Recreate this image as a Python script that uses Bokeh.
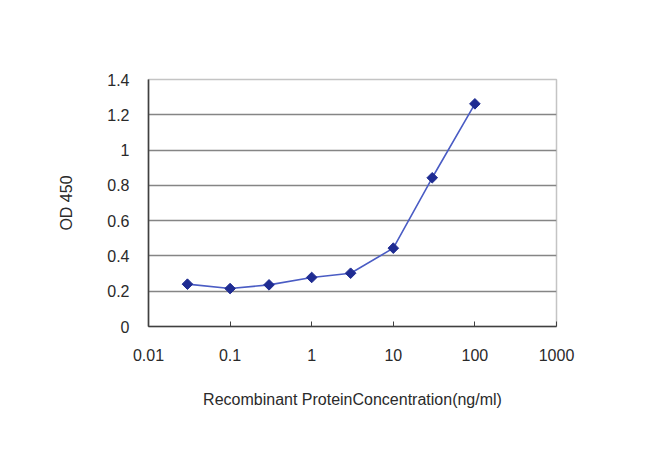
import math
from bokeh.plotting import figure
from bokeh.models import Range1d, FixedTicker, NumeralTickFormatter
from bokeh.embed import file_html
from bokeh.resources import INLINE

# Data
concentration = [0.03, 0.1, 0.3, 1, 3, 10, 30, 100]
od450 = [0.24, 0.215, 0.236, 0.278, 0.302, 0.444, 0.843, 1.262]

x_ticks = [0.01, 0.1, 1, 10, 100, 1000]
y_ticks = [0, 0.2, 0.4, 0.6, 0.8, 1.0, 1.2, 1.4]
grid_ticks = [0.2, 0.4, 0.6, 0.8, 1.0, 1.2]

x_title = "Recombinant ProteinConcentration(ng/ml)"
y_title = "OD 450"

FONT = "Liberation Sans"
TXT = "#2a2a2a"
FS = "16px"

p = figure(width=650, height=466, x_axis_type="log",
           x_range=Range1d(0.01, 1000), y_range=Range1d(0, 1.4),
           output_backend="svg", toolbar_location=None,
           min_border_left=148, min_border_right=94,
           min_border_top=79, min_border_bottom=140)

p.background_fill_color = "white"
p.border_fill_color = "white"
p.outline_line_color = "#c4c4c4"
p.outline_line_width = 1.5

p.xgrid.visible = False
p.ygrid.ticker = FixedTicker(ticks=grid_ticks)
p.ygrid.grid_line_color = "#858585"
p.ygrid.grid_line_width = 1.6

# x axis
xa = p.xaxis[0]
xa.ticker = FixedTicker(ticks=x_ticks, minor_ticks=[])
xa.formatter = NumeralTickFormatter(format="0.[00]")
xa.axis_label = x_title
xa.axis_line_color = "#404040"
xa.axis_line_width = 1.6
xa.major_tick_in = 5
xa.major_tick_out = 0
xa.major_tick_line_color = "#404040"
xa.minor_tick_line_color = None
xa.major_label_standoff = 22
xa.axis_label_standoff = 27
xa.major_label_text_font = FONT
xa.major_label_text_font_size = FS
xa.major_label_text_color = TXT
xa.axis_label_text_font = FONT
xa.axis_label_text_font_size = FS
xa.axis_label_text_font_style = "normal"
xa.axis_label_text_color = TXT

# y axis
ya = p.yaxis[0]
ya.ticker = FixedTicker(ticks=y_ticks, minor_ticks=[])
ya.formatter = NumeralTickFormatter(format="0.[0]")
ya.axis_label = y_title
ya.axis_line_color = "#404040"
ya.axis_line_width = 1.6
ya.major_tick_in = 0
ya.major_tick_out = 0
ya.minor_tick_line_color = None
ya.major_label_standoff = 19
ya.axis_label_standoff = 29
ya.major_label_text_font = FONT
ya.major_label_text_font_size = FS
ya.major_label_text_color = TXT
ya.axis_label_text_font = FONT
ya.axis_label_text_font_size = FS
ya.axis_label_text_font_style = "normal"
ya.axis_label_text_color = TXT

p.line(concentration, od450, line_color="#4a5cc4", line_width=1.6)
p.scatter(concentration, od450, marker="square", size=7.5, angle=math.pi / 4,
          fill_color="#1f2c92", line_color="#1f2c92")

open("out.html", "w").write(file_html(p, INLINE))
